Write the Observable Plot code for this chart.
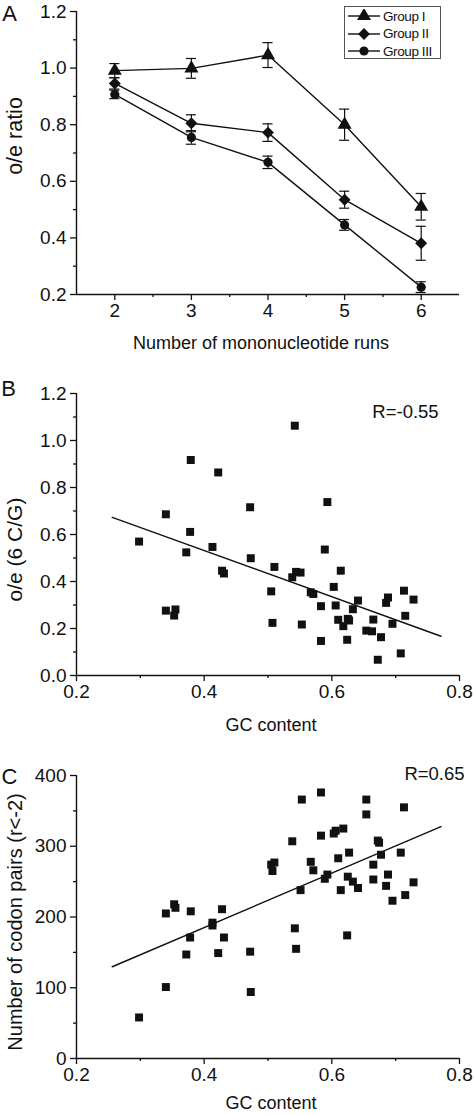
<!DOCTYPE html>
<html>
<head>
<meta charset="utf-8">
<script src="https://cdn.jsdelivr.net/npm/d3@7"></script>
<script src="https://cdn.jsdelivr.net/npm/@observablehq/plot@0.6"></script>
<style>
  html, body { margin: 0; padding: 0; background: #fff; }
  #wrap { position: relative; width: 474px; height: 1115px; overflow: hidden; font-family: "Liberation Sans", Arial, sans-serif; }
  .panel { position: absolute; left: 0; }
  .panel svg { display: block; overflow: visible; }
  #legend { position: absolute; left: 344px; top: 6px; width: 97px; height: 53px; border: 1px solid #555; box-sizing: border-box; background: #fff; }
  #legend .row { position: absolute; left: 3px; height: 16px; display: flex; align-items: center; font-size: 13.5px; color: #111; letter-spacing: -0.4px; white-space: nowrap; }
  #legend svg { display: block; margin-right: 2px; }
</style>
</head>
<body>
<div id="wrap">
  <div class="panel" id="pa" style="top:0px"></div>
  <div class="panel" id="pb" style="top:370px"></div>
  <div class="panel" id="pc" style="top:740px"></div>
  <div id="legend"></div>
</div>
<script>
// ---------- Panel A data ----------
const groups = ["Group I", "Group II", "Group III"];
const runs = [2, 3, 4, 5, 6];
const groupI = [0.991, 0.999, 1.046, 0.800, 0.510];
const groupIErr = [0.025, 0.035, 0.044, 0.055, 0.047];
const groupII = [0.946, 0.805, 0.772, 0.535, 0.381];
const groupIIErr = [0.020, 0.030, 0.031, 0.030, 0.060];
const groupIII = [0.907, 0.755, 0.667, 0.446, 0.226];
const groupIIIErr = [0.015, 0.024, 0.022, 0.019, 0.019];
const yTicksA = [0.2, 0.4, 0.6, 0.8, 1.0, 1.2];
const yMinorA = [0.3, 0.5, 0.7, 0.9, 1.1];
const xMinorA = [2.5, 3.5, 4.5, 5.5];

// ---------- Panel B data ----------
const gcB = [0.298, 0.340, 0.340, 0.353, 0.355, 0.379, 0.378, 0.372, 0.422, 0.413,
             0.428, 0.431, 0.472, 0.473, 0.505, 0.507, 0.510, 0.542, 0.538, 0.544,
             0.551, 0.553, 0.567, 0.571, 0.583, 0.583, 0.593, 0.589, 0.614, 0.603,
             0.606, 0.610, 0.618, 0.625, 0.624, 0.627, 0.633, 0.641, 0.654, 0.663,
             0.665, 0.672, 0.677, 0.685, 0.688, 0.695, 0.708, 0.713, 0.715, 0.728];
const oeB = [0.570, 0.686, 0.276, 0.255, 0.281, 0.917, 0.611, 0.524, 0.864, 0.547,
             0.446, 0.434, 0.716, 0.499, 0.358, 0.224, 0.462, 1.063, 0.418, 0.441,
             0.438, 0.217, 0.354, 0.347, 0.295, 0.147, 0.738, 0.536, 0.446, 0.377,
             0.298, 0.237, 0.210, 0.241, 0.152, 0.234, 0.282, 0.319, 0.191, 0.188,
             0.238, 0.067, 0.163, 0.309, 0.332, 0.220, 0.094, 0.361, 0.254, 0.323];
const fitGcB = [0.256, 0.771];
const fitOeB = [0.673, 0.167];
const yTicksB = [0.0, 0.2, 0.4, 0.6, 0.8, 1.0, 1.2];
const yMinorB = [0.1, 0.3, 0.5, 0.7, 0.9, 1.1];
const xTicksBC = [0.2, 0.4, 0.6, 0.8];
const xMinorBC = [0.3, 0.5, 0.7];

// ---------- Panel C data ----------
const gcC = [0.298, 0.340, 0.340, 0.353, 0.355, 0.379, 0.378, 0.372, 0.413, 0.413,
             0.428, 0.422, 0.431, 0.472, 0.473, 0.505, 0.507, 0.510, 0.538, 0.542,
             0.544, 0.553, 0.551, 0.567, 0.571, 0.583, 0.583, 0.589, 0.593, 0.603,
             0.606, 0.614, 0.618, 0.610, 0.624, 0.625, 0.627, 0.633, 0.641, 0.654,
             0.654, 0.665, 0.665, 0.672, 0.674, 0.677, 0.685, 0.688, 0.695, 0.708,
             0.713, 0.715, 0.728];
const pairsC = [58, 205, 101, 218, 213, 208, 171, 147, 192, 188,
                211, 149, 171, 151, 94, 274, 265, 277, 307, 184,
                155, 366, 238, 278, 266, 376, 315, 254, 260, 318,
                322, 238, 325, 283, 174, 257, 291, 250, 241, 366,
                345, 274, 253, 308, 305, 288, 244, 260, 223, 291,
                355, 231, 249];
const fitGcC = [0.256, 0.771];
const fitPairsC = [129.7, 327.8];
const yTicksC = [0, 100, 200, 300, 400];
const yMinorC = [50, 150, 250, 350];

// ---------- shared styling ----------
const FONT = "Liberation Sans, Arial, sans-serif";
const INK = "#111";
const baseStyle = {fontFamily: FONT, fontSize: "19px", color: INK, background: "white", overflow: "visible"};
const fmt1 = d3.format(".1f");
const none = () => "";

function axesMarks(xTicks, xMinor, yTicks, yMinor, xFmt, yFmt) {
  return [
    Plot.axisX({ticks: xTicks, tickSize: 6, tickPadding: 3, tickFormat: xFmt, label: null, stroke: INK, strokeWidth: 1.3, fontSize: 19}),
    Plot.axisX({ticks: xMinor, tickSize: 3, tickFormat: none, label: null, stroke: INK, strokeWidth: 1.3}),
    Plot.axisY({ticks: yTicks, tickSize: 6, tickPadding: 4, tickFormat: yFmt, label: null, stroke: INK, strokeWidth: 1.3, fontSize: 19}),
    Plot.axisY({ticks: yMinor, tickSize: 3, tickFormat: none, label: null, stroke: INK, strokeWidth: 1.3})
  ];
}

// ---------- Panel A ----------
const seriesA = [groupI, groupII, groupIII];
const errA = [groupIErr, groupIIErr, groupIIIErr];
const dataA = groups.flatMap((g, gi) => runs.map((r, i) => ({group: g, run: r, value: seriesA[gi][i], err: errA[gi][i]})));
const capHalf = 0.066;
const symbolsA = {"Group I": "triangle", "Group II": "diamond2", "Group III": "circle"};
const radiusA = {"Group I": 5.2, "Group II": 5.4, "Group III": 4.6};

const plotA = Plot.plot({
  width: 474, height: 370,
  marginLeft: 76, marginRight: 15, marginTop: 11, marginBottom: 76,
  x: {domain: [1.5, 6.5]},
  y: {domain: [0.2, 1.2]},
  style: baseStyle,
  marks: [
    ...axesMarks(runs, xMinorA, yTicksA, yMinorA, d3.format("d"), fmt1),
    Plot.ruleX([1.5], {stroke: INK, strokeWidth: 1.4}),
    Plot.ruleY([0.2], {stroke: INK, strokeWidth: 1.4}),
    Plot.ruleX(dataA, {x: "run", y1: d => d.value - d.err, y2: d => d.value + d.err, stroke: INK, strokeWidth: 1.2}),
    Plot.ruleY(dataA, {y: d => d.value + d.err, x1: d => d.run - capHalf, x2: d => d.run + capHalf, stroke: INK, strokeWidth: 1.2}),
    Plot.ruleY(dataA, {y: d => d.value - d.err, x1: d => d.run - capHalf, x2: d => d.run + capHalf, stroke: INK, strokeWidth: 1.2}),
    Plot.line(dataA, {x: "run", y: "value", z: "group", stroke: INK, strokeWidth: 1.4}),
    ...groups.map(g => Plot.dot(dataA.filter(d => d.group === g), {x: "run", y: "value", symbol: () => symbolsA[g], r: radiusA[g], fill: INK, stroke: "none"})),
    Plot.text(["A"], {frameAnchor: "top-left", dx: -67, dy: 2, textAnchor: "middle", lineAnchor: "middle", fontSize: 22, fill: INK}),
    Plot.text(["o/e ratio"], {frameAnchor: "left", rotate: -90, dx: -61, dy: -17, textAnchor: "middle", lineAnchor: "middle", fontSize: 21.5, fill: INK}),
    Plot.text(["Number of mononucleotide runs"], {frameAnchor: "bottom", dx: -7, dy: 49, textAnchor: "middle", lineAnchor: "middle", fontSize: 18, fill: INK, style: "letter-spacing:-0.6px"})
  ]
});
document.getElementById("pa").append(plotA);

// ---------- Panel B ----------
const dataB = gcB.map((g, i) => ({gc: g, oe: oeB[i]}));
const fitB = fitGcB.map((g, i) => ({gc: g, oe: fitOeB[i]}));
const plotB = Plot.plot({
  width: 474, height: 370,
  marginLeft: 76, marginRight: 15, marginTop: 23, marginBottom: 65,
  x: {domain: [0.2, 0.8]},
  y: {domain: [0, 1.2]},
  style: baseStyle,
  marks: [
    ...axesMarks(xTicksBC, xMinorBC, yTicksB, yMinorB, fmt1, fmt1),
    Plot.ruleX([0.2], {stroke: INK, strokeWidth: 1.4}),
    Plot.ruleY([0], {stroke: INK, strokeWidth: 1.4}),
    Plot.line(fitB, {x: "gc", y: "oe", stroke: INK, strokeWidth: 1.4}),
    Plot.dot(dataB, {x: "gc", y: "oe", symbol: "square", r: 4.5, fill: INK, stroke: "none"}),
    Plot.text(["B"], {frameAnchor: "top-left", dx: -68, dy: -5, textAnchor: "middle", lineAnchor: "middle", fontSize: 22, fill: INK}),
    Plot.text(["R=-0.55"], {frameAnchor: "top-right", dx: -54, dy: 19, textAnchor: "middle", lineAnchor: "middle", fontSize: 18.5, fill: INK}),
    Plot.text(["o/e (6 C/G)"], {frameAnchor: "left", rotate: -90, dx: -61, dy: 15, textAnchor: "middle", lineAnchor: "middle", fontSize: 21, fill: INK}),
    Plot.text(["GC content"], {frameAnchor: "bottom", dx: 3, dy: 50, textAnchor: "middle", lineAnchor: "middle", fontSize: 18, fill: INK, style: "letter-spacing:-0.8px"})
  ]
});
document.getElementById("pb").append(plotB);

// ---------- Panel C ----------
const dataC = gcC.map((g, i) => ({gc: g, pairs: pairsC[i]}));
const fitC = fitGcC.map((g, i) => ({gc: g, pairs: fitPairsC[i]}));
const plotC = Plot.plot({
  width: 474, height: 375,
  marginLeft: 76, marginRight: 15, marginTop: 35, marginBottom: 57,
  x: {domain: [0.2, 0.8]},
  y: {domain: [0, 400]},
  style: baseStyle,
  marks: [
    ...axesMarks(xTicksBC, xMinorBC, yTicksC, yMinorC, fmt1, d3.format("d")),
    Plot.ruleX([0.2], {stroke: INK, strokeWidth: 1.4}),
    Plot.ruleY([0], {stroke: INK, strokeWidth: 1.4}),
    Plot.line(fitC, {x: "gc", y: "pairs", stroke: INK, strokeWidth: 1.4}),
    Plot.dot(dataC, {x: "gc", y: "pairs", symbol: "square", r: 4.5, fill: INK, stroke: "none"}),
    Plot.text(["C"], {frameAnchor: "top-left", dx: -67, dy: 1, textAnchor: "middle", lineAnchor: "middle", fontSize: 22, fill: INK}),
    Plot.text(["R=0.65"], {frameAnchor: "top-right", dx: -25, dy: -1, textAnchor: "middle", lineAnchor: "middle", fontSize: 18.5, fill: INK}),
    Plot.text(["Number of codon pairs (r<-2)"], {frameAnchor: "left", rotate: -90, dx: -61, dy: 5, textAnchor: "middle", lineAnchor: "middle", fontSize: 20, fill: INK}),
    Plot.text(["GC content"], {frameAnchor: "bottom", dx: 3, dy: 45, textAnchor: "middle", lineAnchor: "middle", fontSize: 18, fill: INK, style: "letter-spacing:-0.8px"})
  ]
});
document.getElementById("pc").append(plotC);

// ---------- Legend for panel A ----------
const legend = document.getElementById("legend");
const legendSymbols = {"Group I": d3.symbolTriangle, "Group II": d3.symbolDiamond2, "Group III": d3.symbolCircle};
const legendSizes = {"Group I": 85, "Group II": 90, "Group III": 66};
groups.forEach((g, i) => {
  const row = document.createElement("div");
  row.className = "row";
  row.style.top = (1 + i * 17.5) + "px";
  const svg = d3.create("svg").attr("width", 33).attr("height", 14);
  svg.append("line").attr("x1", 0).attr("x2", 32).attr("y1", 7).attr("y2", 7).attr("stroke", INK).attr("stroke-width", 1.4);
  svg.append("path").attr("transform", "translate(16,7)").attr("d", d3.symbol(legendSymbols[g], legendSizes[g])()).attr("fill", INK);
  row.append(svg.node());
  const span = document.createElement("span");
  span.textContent = g;
  row.append(span);
  legend.append(row);
});
</script>
</body>
</html>
